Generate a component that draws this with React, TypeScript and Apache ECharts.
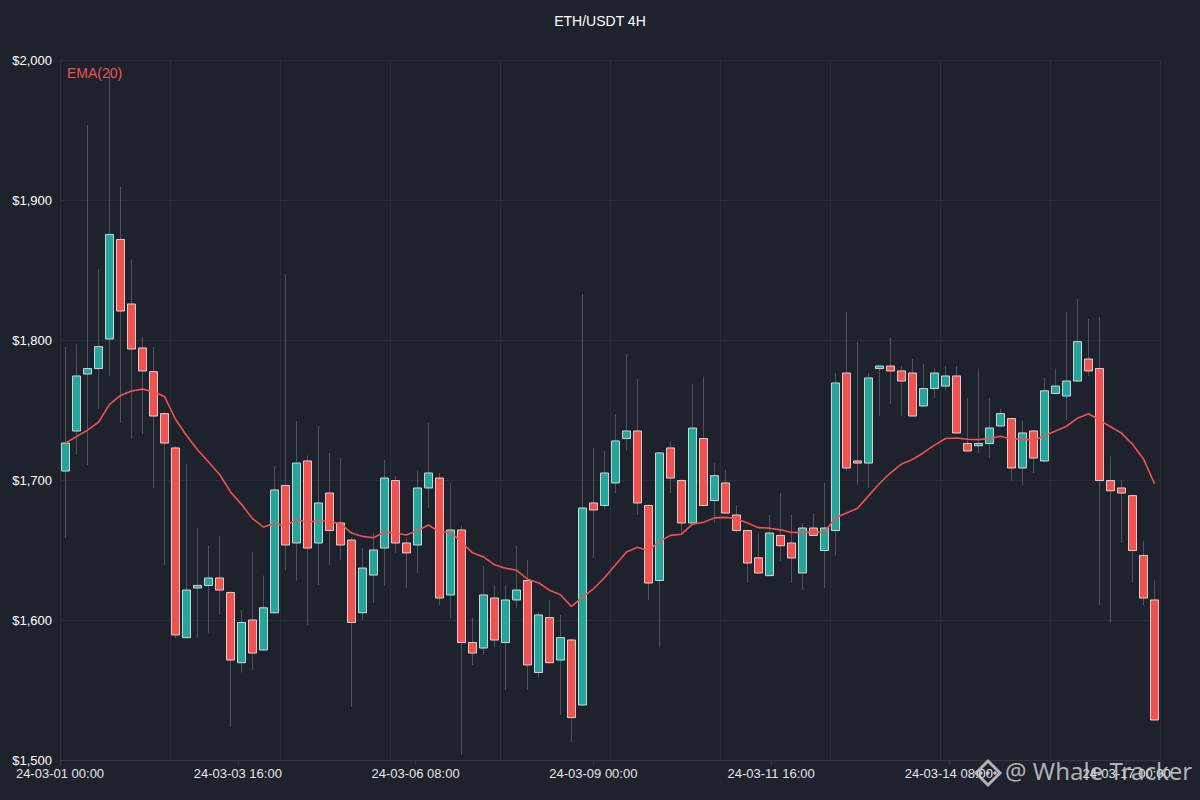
import React, { useEffect, useRef } from "react";
import * as echarts from "echarts";

// ---- data (ETH/USDT, 4H candles) ----
const startTime = Date.UTC(2024, 2, 1, 0, 0);
const stepHours = 4;
const candleCount = 100;
const pad = (n: number) => String(n).padStart(2, "0");
const dates: string[] = [];
for (let i = 0; i < candleCount; i++) {
  const d = new Date(startTime + i * stepHours * 3600 * 1000);
  dates.push(
    `${String(d.getUTCFullYear()).slice(2)}-${pad(d.getUTCMonth() + 1)}-${pad(d.getUTCDate())} ${pad(d.getUTCHours())}:${pad(d.getUTCMinutes())}`
  );
}

const opens = [
  1706.4, 1735.0, 1775.7, 1779.6, 1800.7, 1871.8, 1825.7, 1794.3, 1777.4, 1747.4,
  1722.9, 1587.4, 1622.9, 1624.7, 1630.0, 1619.6, 1569.5, 1600.0, 1578.6, 1605.2,
  1696.1, 1655.0, 1713.6, 1655.0, 1690.7, 1669.3, 1657.1, 1605.2, 1632.1, 1651.4,
  1699.6, 1655.0, 1653.6, 1694.3, 1701.4, 1617.9, 1664.3, 1583.9, 1580.0, 1615.7,
  1583.9, 1614.3, 1628.2, 1562.5, 1601.7, 1571.4, 1585.7, 1539.3, 1683.6, 1681.8,
  1697.9, 1729.6, 1735.0, 1681.8, 1628.2, 1722.9, 1699.6, 1669.3, 1729.6, 1685.3,
  1697.9, 1675.0, 1663.9, 1644.4, 1631.7, 1660.4, 1655.0, 1633.6, 1665.7, 1649.6,
  1663.9, 1776.4, 1713.6, 1712.1, 1779.6, 1781.4, 1777.9, 1776.4, 1752.9, 1765.3,
  1767.1, 1774.3, 1726.1, 1724.5, 1726.1, 1738.6, 1743.9, 1708.6, 1735.0, 1713.6,
  1761.8, 1760.0, 1770.7, 1786.4, 1779.6, 1699.6, 1694.3, 1688.8, 1646.1, 1614.3,
];
const closes = [
  1726.4, 1774.3, 1779.6, 1795.3, 1875.4, 1820.7, 1793.6, 1777.9, 1745.7, 1726.4,
  1589.3, 1621.4, 1624.7, 1630.0, 1621.4, 1571.4, 1598.2, 1576.4, 1608.7, 1692.9,
  1653.6, 1712.1, 1651.4, 1683.6, 1663.9, 1653.6, 1598.2, 1637.1, 1650.0, 1701.4,
  1655.0, 1647.9, 1694.3, 1705.0, 1615.7, 1664.3, 1583.9, 1576.4, 1617.9, 1585.7,
  1614.3, 1621.4, 1567.9, 1603.6, 1569.5, 1587.4, 1530.3, 1680.0, 1678.6, 1705.0,
  1727.9, 1735.0, 1683.6, 1626.4, 1719.3, 1701.4, 1669.3, 1737.1, 1681.8, 1703.1,
  1676.4, 1663.9, 1640.7, 1633.6, 1662.1, 1653.1, 1644.3, 1665.7, 1660.4, 1665.7,
  1769.3, 1708.6, 1712.1, 1772.9, 1781.4, 1777.9, 1770.7, 1745.7, 1765.3, 1776.4,
  1774.3, 1733.6, 1720.7, 1726.1, 1737.1, 1747.4, 1708.6, 1733.6, 1715.7, 1763.7,
  1767.1, 1770.7, 1798.8, 1777.9, 1699.6, 1692.3, 1690.7, 1649.6, 1615.7, 1528.6,
];
const lows = [
  1658.6, 1717.9, 1710.7, 1750.7, 1774.3, 1740.7, 1729.6, 1732.9, 1694.3, 1639.3,
  1587.1, 1586.7, 1587.4, 1590.9, 1603.6, 1523.6, 1562.5, 1564.3, 1577.9, 1604.5,
  1635.7, 1628.2, 1596.4, 1625.0, 1639.3, 1642.9, 1537.9, 1600.0, 1612.1, 1624.6,
  1647.9, 1622.9, 1633.6, 1680.0, 1610.4, 1601.4, 1503.6, 1567.9, 1575.0, 1580.4,
  1550.0, 1608.7, 1550.0, 1559.3, 1569.0, 1532.1, 1512.9, 1538.6, 1644.3, 1678.6,
  1690.7, 1721.0, 1675.0, 1614.3, 1580.4, 1690.7, 1660.4, 1668.6, 1681.0, 1669.3,
  1675.9, 1662.1, 1626.4, 1633.0, 1631.0, 1642.1, 1626.4, 1621.4, 1659.8, 1622.9,
  1646.1, 1706.4, 1696.4, 1694.3, 1745.7, 1754.3, 1745.7, 1745.0, 1752.2, 1758.6,
  1763.6, 1733.0, 1720.0, 1719.3, 1715.7, 1738.0, 1699.6, 1696.1, 1705.0, 1713.0,
  1761.2, 1742.4, 1770.0, 1774.3, 1610.7, 1598.2, 1655.0, 1626.4, 1610.7, 1528.0,
];
const highs = [
  1795.0, 1797.1, 1953.6, 1850.7, 1991.4, 1909.3, 1857.5, 1802.1, 1795.0, 1748.5,
  1724.3, 1711.4, 1665.7, 1653.1, 1660.0, 1620.5, 1607.1, 1648.6, 1631.7, 1710.0,
  1847.1, 1742.1, 1717.5, 1738.6, 1719.3, 1715.7, 1658.8, 1651.4, 1662.1, 1714.3,
  1702.9, 1658.8, 1706.6, 1740.7, 1705.0, 1697.9, 1667.4, 1601.4, 1638.6, 1624.6,
  1624.6, 1653.1, 1642.9, 1605.2, 1614.3, 1603.6, 1586.5, 1832.9, 1722.9, 1720.7,
  1747.1, 1790.0, 1772.1, 1682.5, 1720.0, 1727.9, 1700.5, 1768.6, 1773.9, 1712.1,
  1707.1, 1682.1, 1664.6, 1662.1, 1675.0, 1690.7, 1675.0, 1669.3, 1676.4, 1697.9,
  1776.4, 1820.0, 1798.6, 1776.4, 1781.7, 1802.1, 1781.4, 1786.4, 1783.1, 1779.6,
  1781.4, 1781.4, 1758.6, 1779.6, 1758.6, 1750.9, 1744.5, 1742.4, 1735.7, 1772.9,
  1779.6, 1820.1, 1829.3, 1815.0, 1816.4, 1717.1, 1699.6, 1689.5, 1656.6, 1628.2,
];

const titleText = "ETH/USDT 4H";
const emaName = "EMA(20)";
const emaPeriod = 20;
const yMin = 1500;
const yMax = 2000;
const yStep = 100;
const watermarkText = "@ Whale Tracker";

// ---- derived ----
const ohlc = opens.map((o, i) => [o, closes[i], lows[i], highs[i]]);
const bodies = opens.map((o, i) => [o, closes[i], Math.min(o, closes[i]), Math.max(o, closes[i])]);
const emaK = 2 / (emaPeriod + 1);
const ema: number[] = [];
closes.forEach((c, i) => {
  ema.push(i === 0 ? c : +(c * emaK + ema[i - 1] * (1 - emaK)).toFixed(2));
});

const UP = "#26a69a";
const DOWN = "#ef5350";
const BG = "#1e222d";
const GRID = "#2a2e3a";

const App = () => {
  const ref = useRef<HTMLDivElement>(null);
  useEffect(() => {
    if (!ref.current) return;
    const chart = echarts.init(ref.current, null, { renderer: "svg" });
    chart.setOption({
      animation: false,
      backgroundColor: BG,
      title: {
        text: titleText,
        left: "center",
        top: 9,
        textStyle: { color: "#ffffff", fontSize: 14, fontWeight: "normal" },
      },
      legend: {
        data: [emaName],
        left: 57,
        top: 61,
        icon: "none",
        itemWidth: 0,
        itemGap: 0,
        textStyle: { color: DOWN, fontSize: 14 },
      },
      grid: { left: 60, right: 40, top: 60, bottom: 40 },
      xAxis: [
        {
          type: "category",
          data: dates,
          boundaryGap: true,
          axisLine: { show: false },
          axisTick: { show: false },
          axisLabel: { show: false },
          splitLine: { show: true, interval: 9, lineStyle: { color: GRID, width: 1 } },
        },
        {
          type: "category",
          data: dates,
          boundaryGap: false,
          position: "bottom",
          axisLine: { show: true, lineStyle: { color: "#343845" } },
          axisTick: { show: true, interval: 15, lineStyle: { color: "#343845" } },
          axisLabel: { interval: 15, color: "#e6e6e6", fontSize: 13, margin: 7 },
          splitLine: { show: false },
        },
      ],
      yAxis: {
        type: "value",
        min: yMin,
        max: yMax,
        interval: yStep,
        axisLine: { show: false },
        axisTick: { show: false },
        axisLabel: {
          color: "#ffffff",
          fontSize: 13,
          formatter: (v: number) => "$" + v.toLocaleString("en-US"),
        },
        splitLine: { show: true, lineStyle: { color: GRID, width: 1 } },
      },
      series: [
        {
          name: "wicks",
          type: "candlestick",
          xAxisIndex: 0,
          data: ohlc,
          barWidth: 9,
          itemStyle: {
            color: UP,
            color0: DOWN,
            borderColor: "rgba(255,255,255,0.22)",
            borderColor0: "rgba(255,255,255,0.22)",
            borderWidth: 1,
          },
        },
        {
          name: "bodies",
          type: "candlestick",
          xAxisIndex: 0,
          data: bodies,
          barWidth: 9,
          itemStyle: {
            color: UP,
            color0: DOWN,
            borderColor: "rgba(230,230,230,0.8)",
            borderColor0: "rgba(230,230,230,0.8)",
            borderWidth: 1,
          },
        },
        {
          name: emaName,
          type: "line",
          xAxisIndex: 0,
          data: ema,
          showSymbol: false,
          symbol: "none",
          smooth: false,
          lineStyle: { color: DOWN, width: 1.6 },
          itemStyle: { color: DOWN },
        },
      ],
      graphic: [
        {
          type: "polygon",
          shape: { points: [[988, 761], [1000, 773], [988, 785], [976, 773]] },
          style: { fill: "none", stroke: "rgba(205,205,205,0.85)", lineWidth: 3 },
          z: 100,
        },
        { type: "circle", shape: { cx: 981, cy: 773, r: 1.8 }, style: { fill: "rgba(205,205,205,0.9)" }, z: 100 },
        { type: "circle", shape: { cx: 988, cy: 773, r: 1.8 }, style: { fill: "rgba(205,205,205,0.9)" }, z: 100 },
        { type: "circle", shape: { cx: 995, cy: 773, r: 1.8 }, style: { fill: "rgba(205,205,205,0.9)" }, z: 100 },
        {
          type: "text",
          left: 1005,
          top: 758,
          z: 100,
          style: {
            text: watermarkText,
            fontSize: 24,
            fontFamily: "Noto Sans",
            fill: "rgba(205,205,205,0.85)",
          },
        },
      ],
    });
    return () => chart.dispose();
  }, []);
  return (
    <div
      ref={ref}
      style={{ position: "fixed", left: 0, top: 0, width: 1200, height: 800 }}
    />
  );
};

export default App;
